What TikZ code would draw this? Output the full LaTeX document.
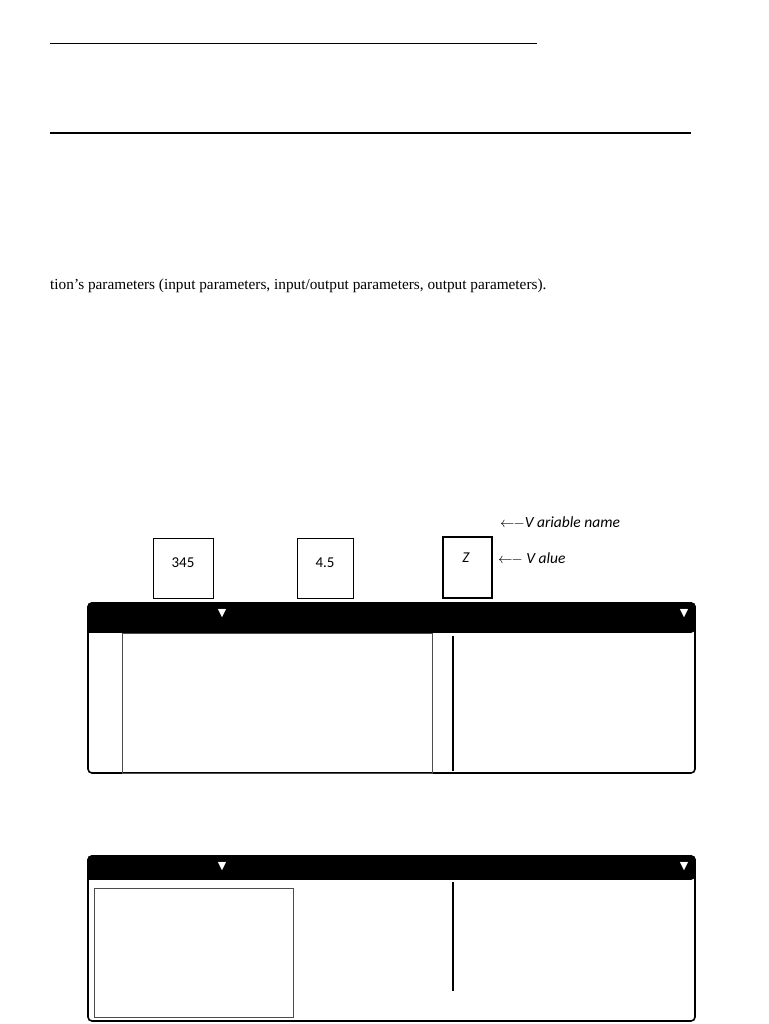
\documentclass[tikz,border=0pt]{standalone}
\usepackage{fontspec}
\setmainfont{Liberation Serif}
\newfontfamily\uifont{Carlito}
\newfontfamily\symfont{DejaVu Sans}
\tikzset{
  valbox/.style={draw, line width=0.8pt, minimum height=60pt, inner sep=0pt},
  panel/.style={draw, line width=1.6pt, rounded corners=4pt},
  header/.style={fill=black, draw=black, line width=1.6pt},
  drop/.style={text=white, font=\symfont\fontsize{11}{11}\selectfont, inner sep=0pt},
  note/.style={font=\uifont\itshape\fontsize{15.5}{15.5}\selectfont, anchor=west, inner sep=0pt}
}
\begin{document}
\begin{tikzpicture}[x=1pt, y=-1pt]
      \useasboundingbox (0,0) rectangle (768,1024);
      \draw[line width=0.8pt] (50,43) -- (537,43);
      \draw[line width=1.5pt] (50,133) -- (691,133);
      \node[anchor=base west, inner sep=0pt, font=\fontsize{15.3}{15.3}\selectfont] (caption)
        at (50,289) {tion’s parameters (input parameters, input/output parameters, output parameters).};
      % value boxes
      \node[valbox, minimum width=60pt] (a) at (183,568) {};
      \node[valbox, minimum width=56pt] (b) at (325,568) {};
      \node[valbox, minimum width=49pt, line width=1.6pt, minimum height=61pt] (c) at (467.5,567.5) {};
      \node[font=\uifont\fontsize{15}{15}\selectfont] (av) at (183,563) {345};
      \node[font=\uifont\fontsize{15}{15}\selectfont] (bv) at (325,563) {4.5};
      \node[font=\uifont\itshape\fontsize{15}{15}\selectfont] (cv) at (466,558) {Z};
      \node[note] (name) at (500,522.5) {$\leftarrow$\kern-1pt$-$V ariable name};
      \node[note] (value) at (498,558.5) {$\leftarrow$\kern-1pt$-$ V alue};
      % first panel
      \begin{scope}
        \draw[panel] (88,603) rectangle (695,773);
        \draw[header, rounded corners=4pt] (88,632) -- (88,603) -- (695,603) -- (695,632) [sharp corners] -- cycle;
        \node[drop] (d1) at (222,614) {▼};
        \node[drop] (d2) at (684,614) {▼};
        \draw[line width=0.8pt, black!70] (122,633) rectangle (432,773);
        \draw[line width=2pt] (453,636) -- (453,771);
      \end{scope}
      % second panel
      \begin{scope}
        \draw[panel] (88,856) rectangle (695,1021);
        \draw[header, rounded corners=4pt] (88,879) -- (88,856) -- (695,856) -- (695,879) [sharp corners] -- cycle;
        \node[drop] (d3) at (222,867) {▼};
        \node[drop] (d4) at (684,867) {▼};
        \draw[line width=0.8pt, black!70] (94,888) rectangle (293,1017);
        \draw[line width=2pt] (453,882) -- (453,991);
      \end{scope}
    \end{tikzpicture}
\end{document}
